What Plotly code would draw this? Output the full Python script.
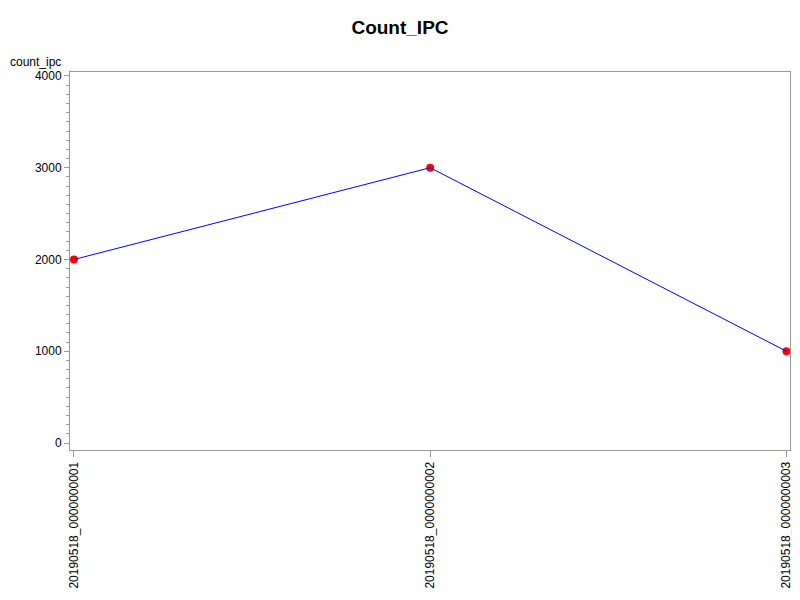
import plotly.graph_objects as go

categories = ["20190518_0000000001", "20190518_0000000002", "20190518_0000000003"]
count_ipc = [2000, 3000, 1000]

FONT = "Liberation Sans, Arial, sans-serif"
OFF = 8  # page body margin offset

fig = go.Figure()
fig.add_trace(go.Scatter(
    x=categories, y=count_ipc, mode="markers",
    marker=dict(color="#ff0000", size=8, line=dict(width=0)),
    showlegend=False, hoverinfo="skip"))
fig.add_trace(go.Scatter(
    x=categories, y=count_ipc, mode="lines",
    line=dict(color="#0000ff", width=1),
    showlegend=False))

axis_color = "#9a9a9a"
fig.update_layout(
    width=800, height=600,
    margin=dict(l=70 - OFF, r=10 + OFF, t=72 - OFF, b=150 + OFF),
    paper_bgcolor="white", plot_bgcolor="white",
    font=dict(family=FONT, size=12, color="black"),
    title=dict(text="<b>Count_IPC</b>", x=(400 - OFF) / 800, xanchor="center",
               xref="container", y=1 - (27 - OFF) / 600, yanchor="middle",
               font=dict(family=FONT, size=19, color="black")),
    xaxis=dict(type="category", range=[-0.011, 2.01],
               showline=True, linecolor=axis_color, linewidth=1, mirror=True,
               ticks="outside", ticklen=6, tickcolor=axis_color,
               tickangle=-90, showgrid=False, zeroline=False,
               tickfont=dict(family=FONT, size=12, color="black")),
    yaxis=dict(range=[-76, 4043], tickmode="linear", tick0=0, dtick=1000,
               showline=True, linecolor=axis_color, linewidth=1, mirror=True,
               ticks="outside", ticklen=5, tickcolor=axis_color,
               minor=dict(dtick=100, ticks="outside", ticklen=3,
                          tickcolor=axis_color, showgrid=False),
               showgrid=False, zeroline=False,
               tickfont=dict(family=FONT, size=12, color="black")),
)
fig.add_annotation(text="count_ipc", xref="paper", yref="paper",
                   x=(8 - 70) / 720, y=(450 - 62) / 378,
                   xanchor="left", yanchor="middle", showarrow=False,
                   font=dict(family=FONT, size=12, color="black"))

fig.write_html("out.html")
